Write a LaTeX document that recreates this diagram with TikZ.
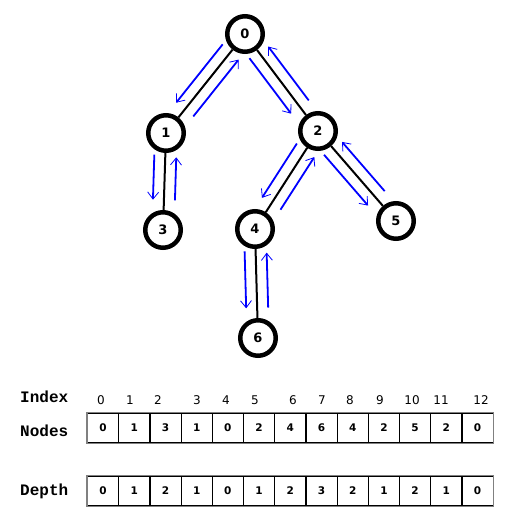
\documentclass[tikz,border=0pt]{standalone}
\usepackage{fontspec}
\newfontfamily\verdfont{DejaVu Sans}
\newfontfamily\courfont{Liberation Mono}
\usepackage{tikz}
\usetikzlibrary{arrows.meta}
\usetikzlibrary{calc}
\usetikzlibrary{fit}
\usetikzlibrary{positioning}

\tikzset{
  vertex/.style={draw,circle,line width=4.5pt,minimum size=35.5pt,inner sep=0pt,
    font=\verdfont\bfseries\fontsize{13}{13}\selectfont},
  treeedge/.style={line width=2pt},
  walk/.style={blue,line width=1.8pt,-{Straight Barb[length=7pt,width=11pt,line width=0.8pt]}},
  walkdown/.style={walk,shorten <=22pt,shorten >=30pt},
  walkup/.style={walk,shorten <=30pt,shorten >=24pt},
  cell/.style={draw,rectangle,minimum width=31.2pt,minimum height=30pt,inner sep=0pt,
    line width=1.2pt,font=\verdfont\bfseries\fontsize{10.5}{10.5}\selectfont},
  rowlabel/.style={anchor=base west,inner sep=0pt,
    font=\courfont\bfseries\fontsize{16}{16}\selectfont},
  indexlabel/.style={anchor=base,inner sep=0pt,font=\verdfont\fontsize{12}{12}\selectfont}
}

% one edge of the tour: down on the right side, back up on the other
\newcommand{\tour}[2]{
  \draw [walkdown] ($(#1)!11pt!-90:(#2)$) -- ($(#2)!11pt!90:(#1)$);
  \draw [walkup] ($(#2)!11pt!-90:(#1)$) -- ($(#1)!11pt!90:(#2)$);
}

\begin{document}
\begin{tikzpicture}[x=1pt,y=-1pt]

  \useasboundingbox [fill=white] (0,0) rectangle (522,522);

  % tree
  \node [vertex] (n0) at (245,34) {0};
  \node [vertex] (n1) at (166,133) {1};
  \node [vertex] (n2) at (318,131) {2};
  \node [vertex] (n3) at (163,230) {3};
  \node [vertex] (n4) at (255,229) {4};
  \node [vertex] (n5) at (396,221) {5};
  \node [vertex] (n6) at (258,338) {6};

  \draw [treeedge] (n0) -- (n1);
  \draw [treeedge] (n0) -- (n2);
  \draw [treeedge] (n1) -- (n3);
  \draw [treeedge] (n2) -- (n4);
  \draw [treeedge] (n2) -- (n5);
  \draw [treeedge] (n4) -- (n6);

  \tour{n0}{n1}
  \tour{n0}{n2}
  \tour{n1}{n3}
  \tour{n2}{n4}
  \tour{n2}{n5}
  \tour{n4}{n6}

  % arrays
  \node [rowlabel] (indexlab) at (20,402) {Index};
  \node [rowlabel] (nodeslab) at (20,436) {Nodes};
  \node [rowlabel] (depthlab) at (20,495) {Depth};

  \foreach \v [count=\i from 0] in {0,1,3,1,0,2,4,6,4,2,5,2,0}
    \node [cell] (c\i) at ({87.5+31.2*(\i+0.5)},428) {\v};
  \foreach \v [count=\i from 0] in {0,1,2,1,0,1,2,3,2,1,2,1,0}
    \node [cell] (d\i) at ({87.5+31.2*(\i+0.5)},491) {\v};

  \node [draw=gray,line width=1.2pt,inner sep=0pt,fit=(c0) (c12)] (nodesbox) {};
  \node [draw=gray,line width=1.2pt,inner sep=0pt,fit=(d0) (d12)] (depthbox) {};

  \foreach \x [count=\i from 0] in {101,130,158,197,226,255,293,322,350,380,412,441,481}
    \node [indexlabel] (i\i) at (\x,404) {\i};

\end{tikzpicture}
\end{document}
